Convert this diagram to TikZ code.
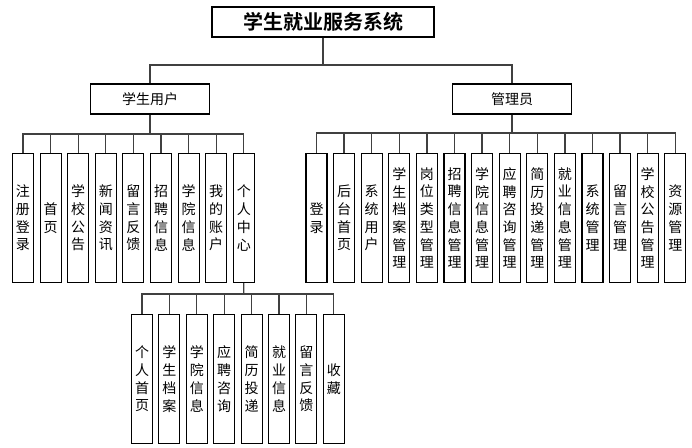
\documentclass[tikz,border=0pt]{standalone}
\usepackage{fontspec}
\newfontfamily\cjk{Noto Sans CJK SC}[BoldFont={Noto Sans CJK SC Bold}]
\tikzset{
  box/.style={draw, line width=0.8pt, inner sep=0pt, font=\cjk\fontsize{10.5}{13.3}\selectfont},
  vbox/.style={box, minimum width=15.75pt, minimum height=96.75pt, align=center, anchor=north},
  link/.style={draw=black!75, line width=1pt},
}
\begin{document}
\begin{tikzpicture}[x=0.75pt, y=-0.75pt]
    \useasboundingbox (0,0) rectangle (692,448);
    % top levels
    \node[box, minimum width=166.5pt, minimum height=22.5pt, font=\cjk\bfseries\fontsize{15}{18}\selectfont] (root) at (323,22) {学生就业服务系统};
    \node[box, minimum width=89.25pt, minimum height=22.5pt] (stu) at (150,99) {学生用户};
    \node[box, minimum width=89.25pt, minimum height=22.5pt] (adm) at (512,99) {管理员};
    \coordinate (rootbus) at (323,65);
    \draw[link] (root) -- (rootbus);
    \draw[link] (stu.north) |- (rootbus) -| (adm.north);
    % student user
    \foreach \t [count=\i] in {注\\册\\登\\录, 首\\页, 学\\校\\公\\告, 新\\闻\\资\\讯, 留\\言\\反\\馈, 招\\聘\\信\\息, 学\\院\\信\\息, 我\\的\\账\\户, 个\\人\\中\\心}
        \node[vbox] (s\i) at ({23+27.6*(\i-1)},153) {\t};
    \coordinate (stubus) at (150,134);
    \draw[link] (stu) -- (stubus);
    \foreach \i in {1,...,9} \draw[link] (s\i.north) |- (stubus);
    % admin
    \foreach \t [count=\i] in {登\\录, 后\\台\\首\\页, 系\\统\\用\\户, 学\\生\\档\\案\\管\\理, 岗\\位\\类\\型\\管\\理, 招\\聘\\信\\息\\管\\理, 学\\院\\信\\息\\管\\理, 应\\聘\\咨\\询\\管\\理, 简\\历\\投\\递\\管\\理, 就\\业\\信\\息\\管\\理, 系\\统\\管\\理, 留\\言\\管\\理, 学\\校\\公\\告\\管\\理, 资\\源\\管\\理}
        \node[vbox] (a\i) at ({316.5+27.6*(\i-1)},153) {\t};
    \coordinate (admbus) at (512,133);
    \draw[link] (adm) -- (admbus);
    \foreach \i in {1,...,14} \draw[link] (a\i.north) |- (admbus);
    % personal center
    \foreach \t [count=\i] in {个\\人\\首\\页, 学\\生\\档\\案, 学\\院\\信\\息, 应\\聘\\咨\\询, 简\\历\\投\\递, 就\\业\\信\\息, 留\\言\\反\\馈, 收\\藏}
        \node[vbox] (p\i) at ({142+27.4*(\i-1)},314) {\t};
    \coordinate (pcbus) at (243.8,294);
    \draw[link] (s9) -- (pcbus);
    \foreach \i in {1,...,8} \draw[link] (p\i.north) |- (pcbus);
\end{tikzpicture}
\end{document}
